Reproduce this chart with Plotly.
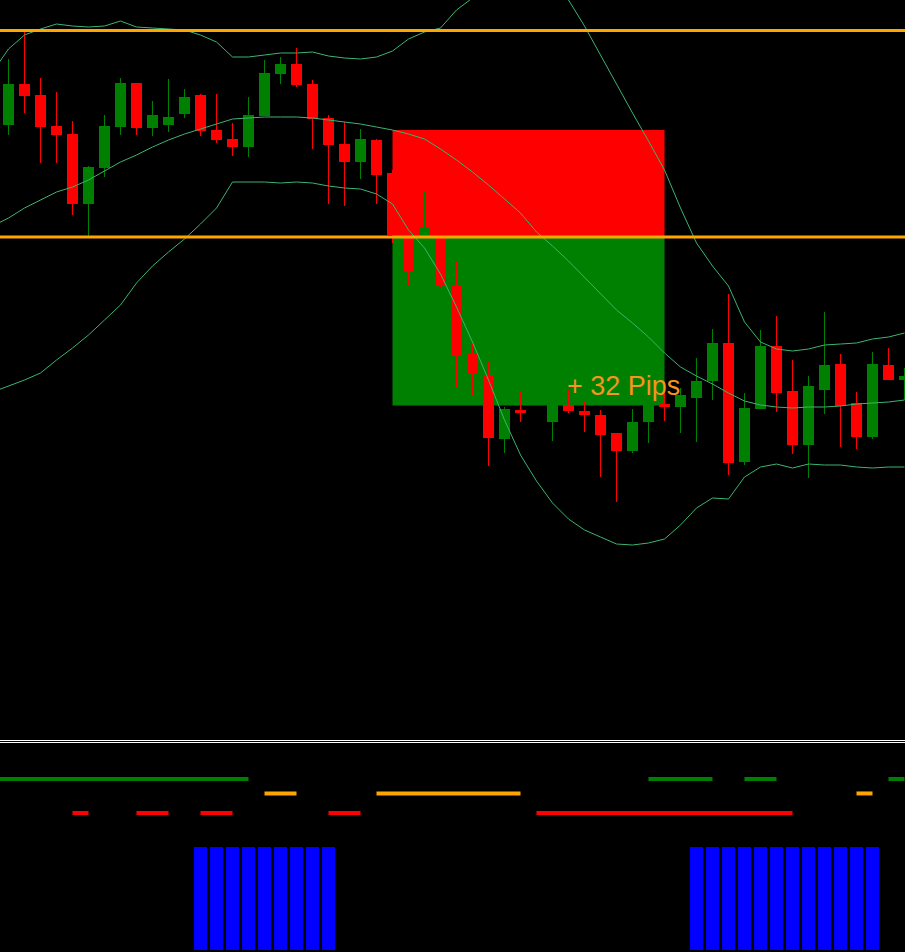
import plotly.graph_objects as go

# ---------------- data ----------------
bars = list(range(57))
opens = [1.09750, 1.09832, 1.09810, 1.09748, 1.09732, 1.09592, 1.09664, 1.09746, 1.09834, 1.09744,
         1.09750, 1.09772, 1.09810, 1.09740, 1.09722, 1.09706, 1.09768, 1.09852, 1.09872, 1.09832,
         1.09764, 1.09712, 1.09676, 1.09720, 1.09654, 1.09530, 1.09476, 1.09542, 1.09430, 1.09294,
         1.09250, 1.09122, 1.09180, 1.09204, 1.09156, 1.09190, 1.09178, 1.09170, 1.09134, 1.09098,
         1.09156, 1.09192, 1.09186, 1.09204, 1.09238, 1.09314, 1.09076, 1.09182, 1.09308, 1.09218,
         1.09110, 1.09220, 1.09272, 1.09194, 1.09126, 1.09270, 1.09240]
highs = [1.09882, 1.09936, 1.09844, 1.09816, 1.09758, 1.09668, 1.09770, 1.09844, 1.09834, 1.09798,
         1.09842, 1.09822, 1.09812, 1.09812, 1.09754, 1.09806, 1.09880, 1.09886, 1.09904, 1.09840,
         1.09770, 1.09756, 1.09742, 1.09722, 1.09660, 1.09544, 1.09616, 1.09550, 1.09476, 1.09312,
         1.09278, 1.09186, 1.09216, 1.09228, 1.09220, 1.09222, 1.09196, 1.09180, 1.09134, 1.09182,
         1.09216, 1.09216, 1.09224, 1.09284, 1.09342, 1.09412, 1.09214, 1.09340, 1.09368, 1.09280,
         1.09248, 1.09376, 1.09292, 1.09216, 1.09296, 1.09304, 1.09264]
lows = [1.09730, 1.09774, 1.09674, 1.09674, 1.09570, 1.09528, 1.09646, 1.09730, 1.09730, 1.09728,
        1.09736, 1.09764, 1.09728, 1.09714, 1.09688, 1.09686, 1.09768, 1.09832, 1.09826, 1.09702,
        1.09592, 1.09588, 1.09642, 1.09592, 1.09514, 1.09430, 1.09464, 1.09426, 1.09226, 1.09210,
        1.09068, 1.09094, 1.09156, 1.09196, 1.09118, 1.09174, 1.09136, 1.09046, 1.08996, 1.09094,
        1.09114, 1.09158, 1.09134, 1.09116, 1.09200, 1.09050, 1.09070, 1.09182, 1.09176, 1.09092,
        1.09044, 1.09172, 1.09106, 1.09102, 1.09122, 1.09240, 1.09200]
closes = [1.09832, 1.09808, 1.09746, 1.09730, 1.09592, 1.09666, 1.09748, 1.09834, 1.09744, 1.09770,
          1.09766, 1.09806, 1.09738, 1.09720, 1.09706, 1.09770, 1.09854, 1.09872, 1.09830, 1.09762,
          1.09710, 1.09676, 1.09722, 1.09650, 1.09530, 1.09458, 1.09546, 1.09428, 1.09290, 1.09252,
          1.09124, 1.09182, 1.09174, 1.09216, 1.09208, 1.09178, 1.09170, 1.09130, 1.09098, 1.09156,
          1.09204, 1.09186, 1.09210, 1.09238, 1.09314, 1.09074, 1.09184, 1.09308, 1.09214, 1.09110,
          1.09228, 1.09270, 1.09188, 1.09126, 1.09272, 1.09240, 1.09248]

band_x = list(range(-1, 57))
bb_upper = [1.09856, 1.09902, 1.09930, 1.09942, 1.09952, 1.09948, 1.09946, 1.09948, 1.09958, 1.09946,
            1.09944, 1.09942, 1.09940, 1.09930, 1.09916, 1.09886, 1.09886, 1.09890, 1.09894, 1.09894,
            1.09896, 1.09888, 1.09884, 1.09882, 1.09886, 1.09898, 1.09922, 1.09936, 1.09944, 1.09980,
            1.10004, 1.10016, 1.10040, 1.10052, 1.10040, 1.10016, 1.10000, 1.09948, 1.09890, 1.09830,
            1.09774, 1.09718, 1.09660, 1.09584, 1.09514, 1.09468, 1.09428, 1.09356, 1.09316, 1.09302,
            1.09298, 1.09302, 1.09310, 1.09312, 1.09314, 1.09322, 1.09326, 1.09334]
bb_middle = [1.09548, 1.09564, 1.09584, 1.09600, 1.09616, 1.09626, 1.09640, 1.09658, 1.09676, 1.09690,
             1.09706, 1.09720, 1.09732, 1.09742, 1.09752, 1.09762, 1.09764, 1.09766, 1.09766, 1.09766,
             1.09764, 1.09760, 1.09756, 1.09752, 1.09746, 1.09740, 1.09732, 1.09722, 1.09702, 1.09680,
             1.09656, 1.09630, 1.09602, 1.09574, 1.09536, 1.09508, 1.09478, 1.09446, 1.09412, 1.09380,
             1.09354, 1.09326, 1.09294, 1.09266, 1.09248, 1.09232, 1.09214, 1.09198, 1.09190, 1.09186,
             1.09184, 1.09186, 1.09186, 1.09188, 1.09192, 1.09194, 1.09196, 1.09200]
bb_lower = [1.09216, 1.09228, 1.09240, 1.09254, 1.09280, 1.09304, 1.09330, 1.09360, 1.09390, 1.09434,
            1.09468, 1.09496, 1.09522, 1.09552, 1.09584, 1.09636, 1.09636, 1.09636, 1.09634, 1.09636,
            1.09634, 1.09628, 1.09624, 1.09622, 1.09612, 1.09592, 1.09540, 1.09504, 1.09452, 1.09386,
            1.09316, 1.09240, 1.09160, 1.09090, 1.09038, 1.08994, 1.08962, 1.08940, 1.08926, 1.08912,
            1.08910, 1.08914, 1.08922, 1.08950, 1.08984, 1.09004, 1.09002, 1.09046, 1.09066, 1.09072,
            1.09064, 1.09072, 1.09070, 1.09070, 1.09066, 1.09064, 1.09066, 1.09066]

# trade levels
level_high = 1.09939
level_entry = 1.09526
stop_level = 1.09740
target_level = 1.09189
trade_start, trade_end = 24, 41
pips_label = "+ 32 Pips"

# lower indicator: active bars for each state (index -1 .. 56)
green_on = list(range(-1, 16)) + list(range(40, 45)) + list(range(46, 49)) + [55, 56]
orange_on = list(range(16, 19)) + list(range(23, 33)) + [53, 54]
red_on = [4, 5, 8, 9, 10, 12, 13, 14, 20, 21, 22] + list(range(33, 50))
hist_on = list(range(12, 21)) + list(range(43, 55))
LEVEL_G, LEVEL_O, LEVEL_R = 1.66, 1.52, 1.33

# ---------------- figure ----------------
GREEN = "#008000"
RED = "#FF0000"
BAND = "#3CB371"
ORANGE = "#FFA500"

fig = go.Figure()

# wicks
for up in (True, False):
    wx, wy = [], []
    for i, o, h, l, c in zip(bars, opens, highs, lows, closes):
        if (c >= o) == up:
            wx += [i, i, None]
            wy += [l, h, None]
    fig.add_trace(go.Scatter(x=wx, y=wy, mode="lines",
                             line=dict(color=GREEN if up else RED, width=1),
                             hoverinfo="skip", showlegend=False))

# bodies
body_base = [min(o, c) for o, c in zip(opens, closes)]
body_h = [max(abs(c - o), 0.00002) for o, c in zip(opens, closes)]
body_col = [GREEN if c >= o else RED for o, c in zip(opens, closes)]
fig.add_trace(go.Bar(x=bars, y=body_h, base=body_base, width=0.6875,
                     marker=dict(color=body_col, line=dict(width=0)),
                     hoverinfo="skip", showlegend=False))

# bollinger bands
for band in (bb_upper, bb_middle, bb_lower):
    fig.add_trace(go.Scatter(x=band_x, y=band, mode="lines",
                             line=dict(color=BAND, width=1),
                             hoverinfo="skip", showlegend=False))

# lower panel lines
def level_series(active, level):
    return [level if i in active else None for i in band_x]

for active, level, col in ((green_on, LEVEL_G, GREEN), (orange_on, LEVEL_O, ORANGE), (red_on, LEVEL_R, RED)):
    fig.add_trace(go.Scatter(x=band_x, y=level_series(active, level), mode="lines",
                             line=dict(color=col, width=4), connectgaps=False,
                             xaxis="x2", yaxis="y2", hoverinfo="skip", showlegend=False))

hist_vals = [1 if i in hist_on else 0 for i in bars]
fig.add_trace(go.Bar(x=bars, y=hist_vals, width=0.8125,
                     marker=dict(color="#0000FF", line=dict(width=0)),
                     xaxis="x2", yaxis="y2", hoverinfo="skip", showlegend=False))

# trade boxes
fig.add_shape(type="rect", xref="x", yref="y", x0=trade_start, x1=trade_end,
              y0=level_entry, y1=stop_level, fillcolor=RED, line=dict(width=0), layer="below")
fig.add_shape(type="rect", xref="x", yref="y", x0=trade_start, x1=trade_end,
              y0=target_level, y1=level_entry, fillcolor=GREEN, line=dict(width=0), layer="below")

# horizontal levels
for lv in (level_high, level_entry):
    fig.add_shape(type="line", xref="paper", yref="y", x0=0, x1=1, y0=lv, y1=lv,
                  line=dict(color=ORANGE, width=3), layer="above")

# sub-window separator
H = 952
for py in (740.5, 742.5):
    fig.add_shape(type="line", xref="paper", yref="paper", x0=0, x1=1,
                  y0=1 - py / H, y1=1 - py / H, line=dict(color="white", width=1))

fig.add_annotation(x=34.78, y=1.09229, xref="x", yref="y", text=pips_label,
                   showarrow=False, xanchor="left", yanchor="middle",
                   font=dict(family="Liberation Sans, Arial, sans-serif", size=27, color="#F7931E"))

xr = [-8.5 / 16, (905 - 8.5) / 16]
ax_common = dict(visible=False, showgrid=False, zeroline=False, fixedrange=True)
fig.update_layout(
    width=905, height=952,
    margin=dict(l=0, r=0, t=0, b=0),
    paper_bgcolor="black", plot_bgcolor="black",
    showlegend=False, bargap=0,
    xaxis=dict(range=xr, domain=[0, 1], anchor="y", **ax_common),
    yaxis=dict(range=[1.08520, 1.10000], domain=[1 - 740 / H, 1], anchor="x", **ax_common),
    xaxis2=dict(range=xr, domain=[0, 1], anchor="y2", **ax_common),
    yaxis2=dict(range=[-0.0194, 2.0], domain=[0, 1 - 744 / H], anchor="x2", **ax_common),
)

fig.write_html(
    "out.html",
    config={"displayModeBar": False},
    post_script="document.body.style.margin='0';document.body.style.padding='0';"
                "document.body.style.background='black';"
                "document.documentElement.style.background='black';",
)
